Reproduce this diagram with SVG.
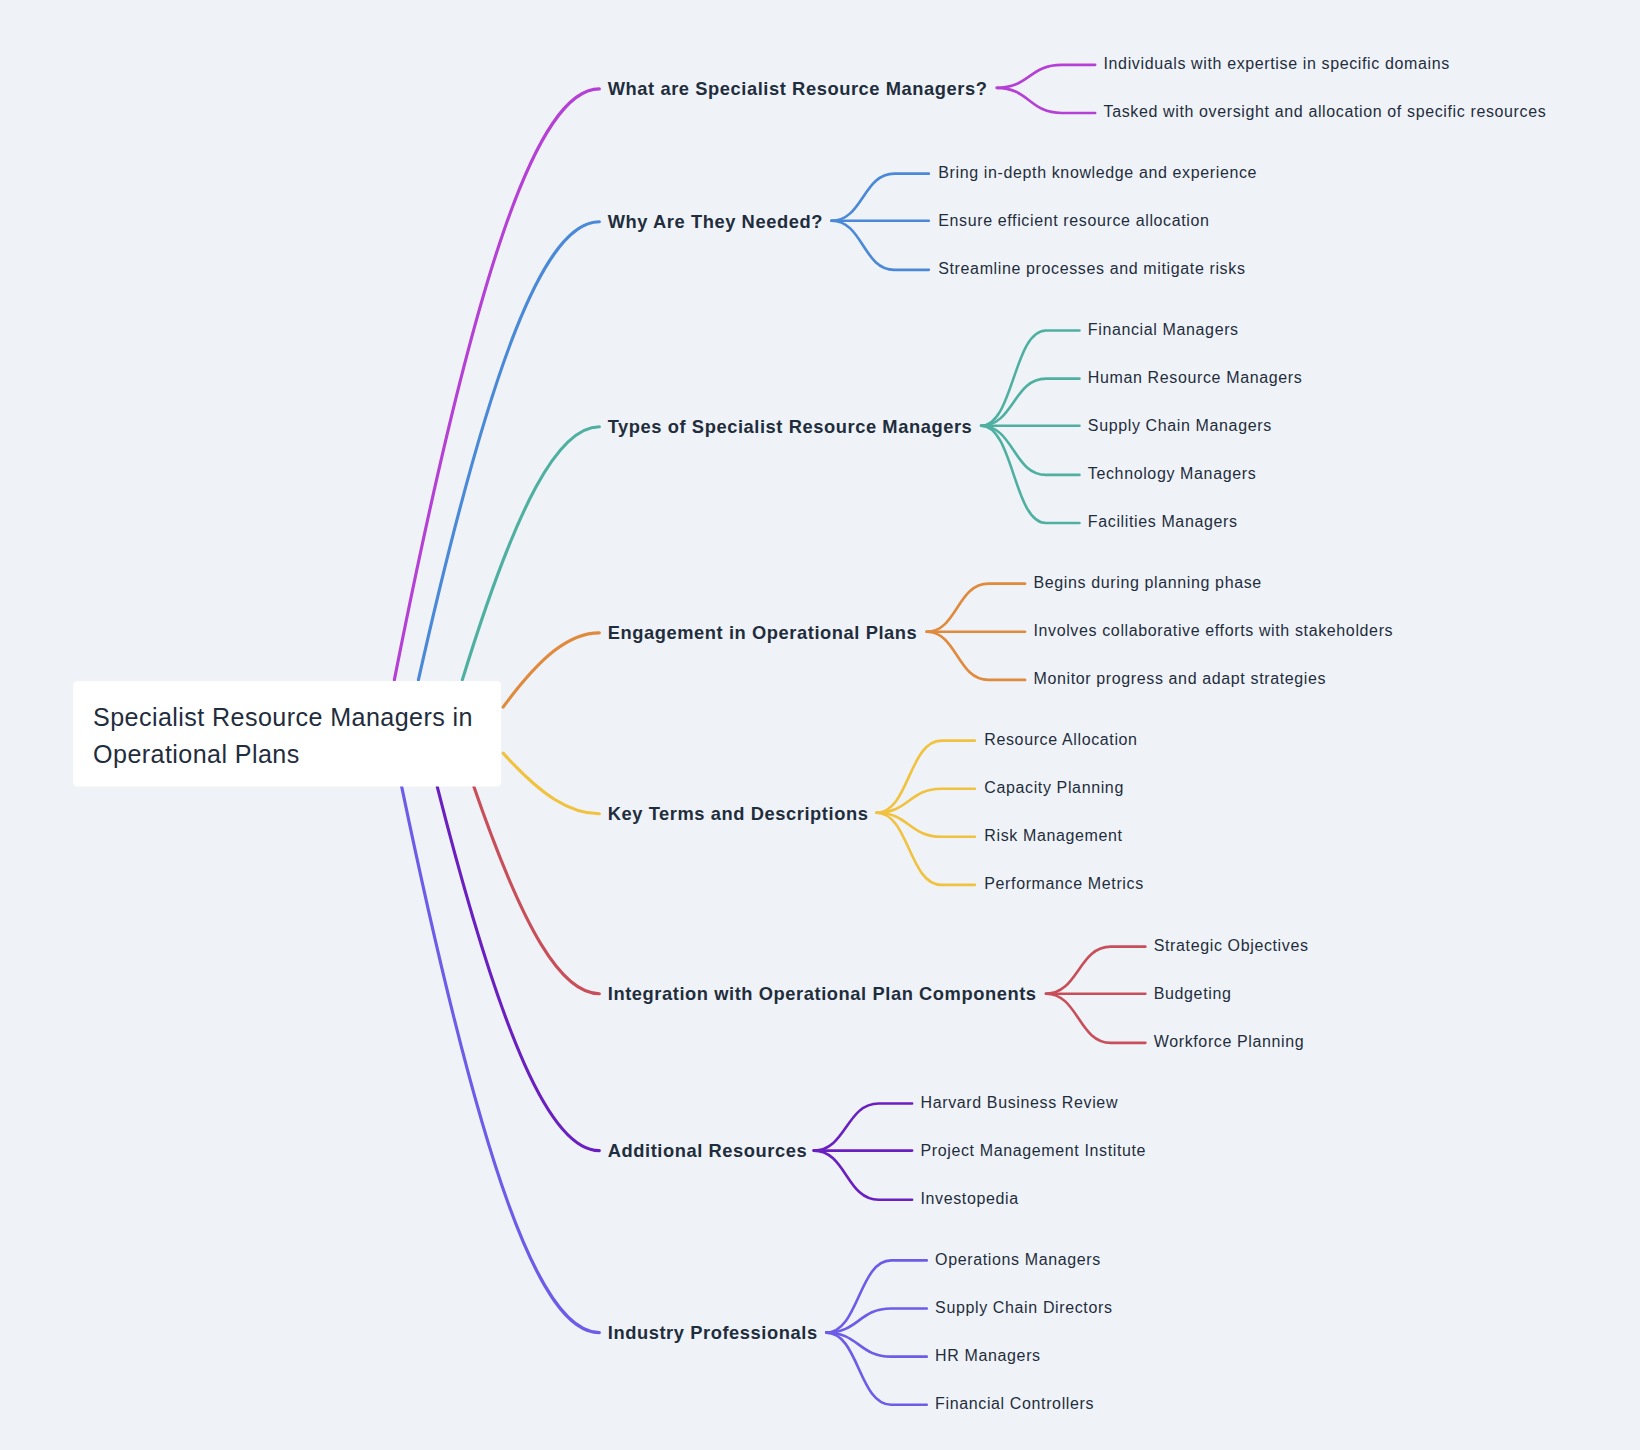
<svg xmlns="http://www.w3.org/2000/svg" width="1640" height="1450" viewBox="0 0 1640 1450">
<style>
.m{fill:none;stroke-width:3;stroke-linecap:round}
.c{fill:none;stroke-width:2.5;stroke-linecap:round}
.p{font-family:"Liberation Sans",Arial,sans-serif;font-weight:bold;font-size:17.5px;letter-spacing:0.55px;fill:#1f2d3d;dominant-baseline:central}
.t{font-family:"Liberation Sans",Arial,sans-serif;font-size:15.3px;letter-spacing:0.6px;fill:#1f2d3d;dominant-baseline:central}
.r{font-family:"Liberation Sans",Arial,sans-serif;font-size:24px;letter-spacing:0.4px;fill:#1f2d3d}
</style>
<rect width="1640" height="1450" fill="#eff3f7"/>
<g transform="scale(1.046)">
<g id="connectors">
<path class="m" stroke="#b540d6" d="M377 650 C455 255 514 85 573 85"/>
<path class="m" stroke="#4a88d8" d="M400 650 C469 343 521 212 573 212"/>
<path class="m" stroke="#4fb0a2" d="M442 650 C494 481 534 408 573 408"/>
<path class="m" stroke="#e08a3e" d="M481 676 C518 626 545 605 573 605"/>
<path class="m" stroke="#f0c23f" d="M481 720 C518 761 545 778 573 778"/>
<path class="m" stroke="#c84e5a" d="M453 752 C501 891 537 950 573 950"/>
<path class="m" stroke="#6a1fc0" d="M418 752 C480 996 527 1100 573 1100"/>
<path class="m" stroke="#6c5ce7" d="M384 752 C460 1117 516 1274 573 1274"/>
<g stroke="#b540d6">
<path class="c" d="M953 84 C984 84 984 62 1015 62 L1047 62"/>
<path class="c" d="M953 84 C984 84 984 108 1015 108 L1047 108"/>
</g>
<g stroke="#4a88d8">
<path class="c" d="M795 211 C825 211 825 166 855 166 L888 166"/>
<path class="c" d="M795 211 L888 211"/>
<path class="c" d="M795 211 C825 211 825 258 855 258 L888 258"/>
</g>
<g stroke="#4fb0a2">
<path class="c" d="M938 407 C969 407 969 316 1000 316 L1032 316"/>
<path class="c" d="M938 407 C969 407 969 362 1000 362 L1032 362"/>
<path class="c" d="M938 407 L1032 407"/>
<path class="c" d="M938 407 C969 407 969 454 1000 454 L1032 454"/>
<path class="c" d="M938 407 C969 407 969 500 1000 500 L1032 500"/>
</g>
<g stroke="#e08a3e">
<path class="c" d="M886 604 C915 604 915 558 945 558 L980 558"/>
<path class="c" d="M886 604 L980 604"/>
<path class="c" d="M886 604 C915 604 915 650 945 650 L980 650"/>
</g>
<g stroke="#f0c23f">
<path class="c" d="M838 777 C869 777 869 708 900 708 L932 708"/>
<path class="c" d="M838 777 C869 777 869 754 900 754 L932 754"/>
<path class="c" d="M838 777 C869 777 869 800 900 800 L932 800"/>
<path class="c" d="M838 777 C869 777 869 846 900 846 L932 846"/>
</g>
<g stroke="#c84e5a">
<path class="c" d="M1000 950 C1031 950 1031 905 1062 905 L1095 905"/>
<path class="c" d="M1000 950 L1095 950"/>
<path class="c" d="M1000 950 C1031 950 1031 997 1062 997 L1095 997"/>
</g>
<g stroke="#6a1fc0">
<path class="c" d="M778 1100 C809 1100 809 1055 840 1055 L872 1055"/>
<path class="c" d="M778 1100 L872 1100"/>
<path class="c" d="M778 1100 C809 1100 809 1147 840 1147 L872 1147"/>
</g>
<g stroke="#6c5ce7">
<path class="c" d="M790 1274 C821 1274 821 1205 852 1205 L886 1205"/>
<path class="c" d="M790 1274 C821 1274 821 1251 852 1251 L886 1251"/>
<path class="c" d="M790 1274 C821 1274 821 1297 852 1297 L886 1297"/>
<path class="c" d="M790 1274 C821 1274 821 1343 852 1343 L886 1343"/>
</g>
</g>
<g id="root"><rect x="70" y="651" width="409" height="101" rx="4" fill="#ffffff"/>
<text class="r" x="89" y="694">Specialist Resource Managers in</text>
<text class="r" x="89" y="729">Operational Plans</text></g>
<g id="n1"><text class="p" x="581" y="85">What are Specialist Resource Managers?</text>
<text class="t" x="1055" y="61">Individuals with expertise in specific domains</text>
<text class="t" x="1055" y="107">Tasked with oversight and allocation of specific resources</text></g>
<g id="n2"><text class="p" x="581" y="212">Why Are They Needed?</text>
<text class="t" x="897" y="165">Bring in-depth knowledge and experience</text>
<text class="t" x="897" y="211">Ensure efficient resource allocation</text>
<text class="t" x="897" y="257">Streamline processes and mitigate risks</text></g>
<g id="n3"><text class="p" x="581" y="408">Types of Specialist Resource Managers</text>
<text class="t" x="1040" y="315">Financial Managers</text>
<text class="t" x="1040" y="361">Human Resource Managers</text>
<text class="t" x="1040" y="407">Supply Chain Managers</text>
<text class="t" x="1040" y="453">Technology Managers</text>
<text class="t" x="1040" y="499">Facilities Managers</text></g>
<g id="n4"><text class="p" x="581" y="605">Engagement in Operational Plans</text>
<text class="t" x="988" y="557">Begins during planning phase</text>
<text class="t" x="988" y="603">Involves collaborative efforts with stakeholders</text>
<text class="t" x="988" y="649">Monitor progress and adapt strategies</text></g>
<g id="n5"><text class="p" x="581" y="778">Key Terms and Descriptions</text>
<text class="t" x="941" y="707">Resource Allocation</text>
<text class="t" x="941" y="753">Capacity Planning</text>
<text class="t" x="941" y="799">Risk Management</text>
<text class="t" x="941" y="845">Performance Metrics</text></g>
<g id="n6"><text class="p" x="581" y="950">Integration with Operational Plan Components</text>
<text class="t" x="1103" y="904">Strategic Objectives</text>
<text class="t" x="1103" y="950">Budgeting</text>
<text class="t" x="1103" y="996">Workforce Planning</text></g>
<g id="n7"><text class="p" x="581" y="1100">Additional Resources</text>
<text class="t" x="880" y="1054">Harvard Business Review</text>
<text class="t" x="880" y="1100">Project Management Institute</text>
<text class="t" x="880" y="1146">Investopedia</text></g>
<g id="n8"><text class="p" x="581" y="1274">Industry Professionals</text>
<text class="t" x="894" y="1204">Operations Managers</text>
<text class="t" x="894" y="1250">Supply Chain Directors</text>
<text class="t" x="894" y="1296">HR Managers</text>
<text class="t" x="894" y="1342">Financial Controllers</text></g>
</g>
</svg>
